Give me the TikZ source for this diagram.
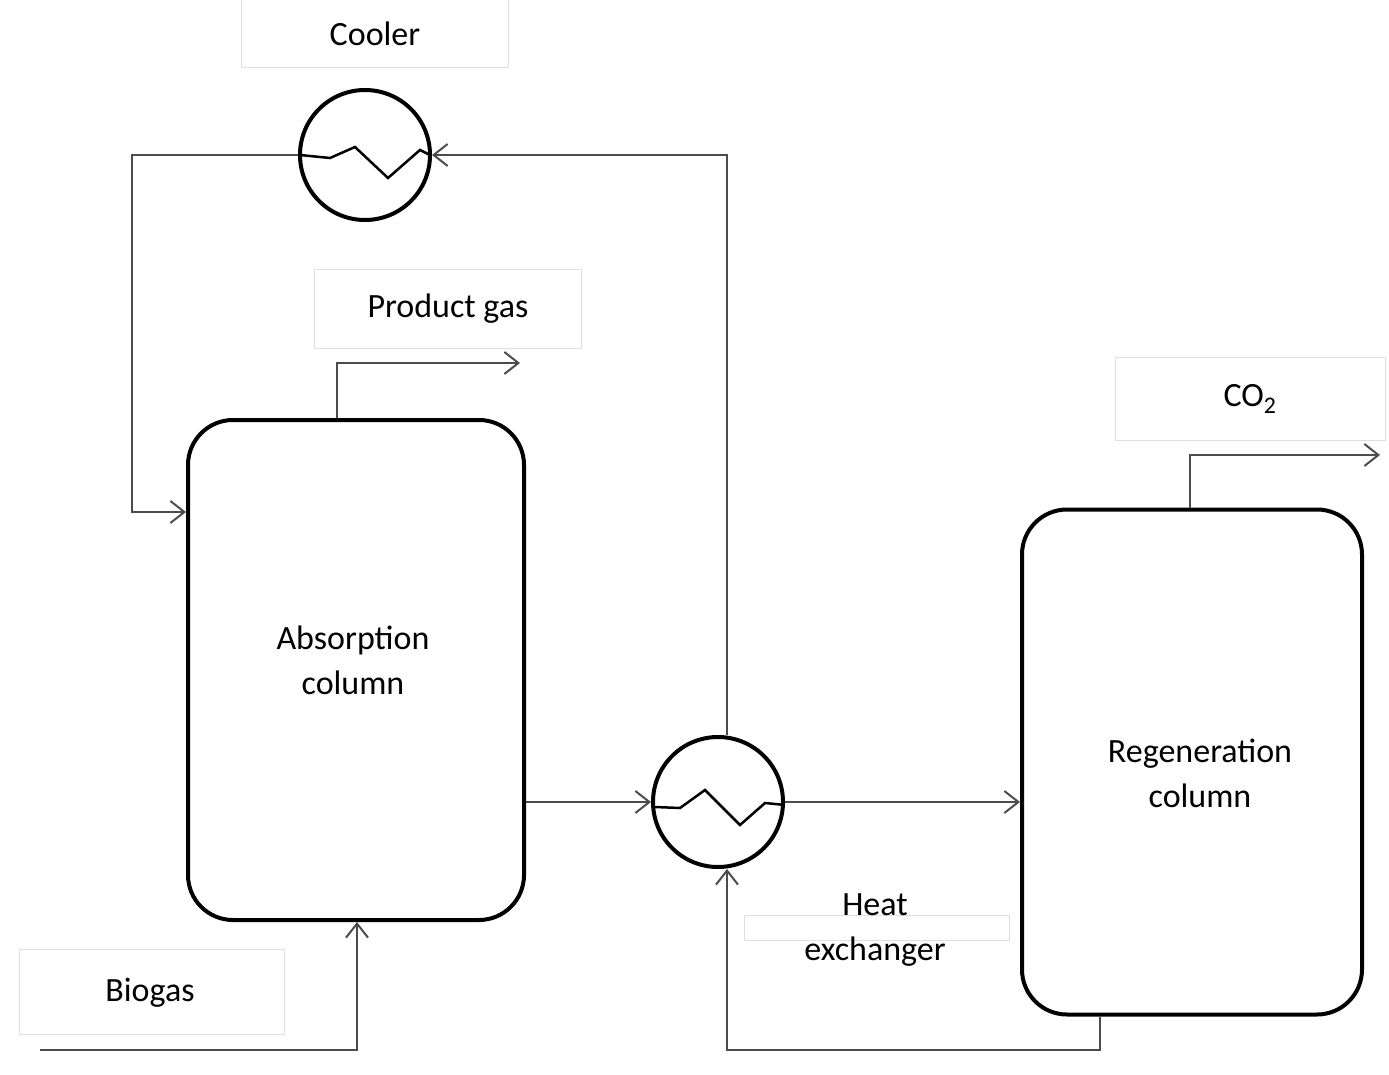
\documentclass[tikz,border=0pt]{standalone}
\usepackage{fontspec}
\setmainfont{Carlito}
\usetikzlibrary{arrows.meta}
\begin{document}
\begin{tikzpicture}[x=1pt,y=-1pt,
  pipe/.style={line width=2pt,gray!60!black},
  arr/.style={pipe,-{Straight Barb[length=14pt,width=22pt]}},
  col/.style={draw,line width=4pt,rounded corners=45pt},
  hx/.style={draw,line width=4pt,circle,minimum size=130pt,inner sep=0pt},
  txt/.style={font=\fontsize{34}{45}\selectfont,align=center},
  lbl/.style={txt,draw=gray!25,line width=1pt}]
\useasboundingbox (0,0) rectangle (1389,1075);
\node[lbl,minimum width=267pt,minimum height=68pt] (coolerL) at (375,34) {Cooler};
\node[hx] (cooler) at (365,155) {};
\draw[line width=2.5pt] (300,155) -- (330,158) -- (355,147) -- (388,178) -- (420,150) -- (430,155);
\node[lbl,minimum width=267pt,minimum height=78pt] (prodL) at (448,309) {Product gas};
\node[col,minimum width=336pt,minimum height=500pt] (abs) at (356,670) {};
\node[txt] (absT) at (353,660) {Absorption\\column};
\node[hx] (hx) at (718,802) {};
\draw[line width=2.5pt] (655,807) -- (680,808) -- (705,790) -- (740,825) -- (765,803) -- (785,805);
\node[col,minimum width=340pt,minimum height=505pt] (reg) at (1192,762) {};
\node[txt] (regT) at (1200,773) {Regeneration\\column};
\node[lbl,minimum width=270pt,minimum height=83pt] (co2L) at (1250,399) {CO\textsubscript{2}};
\node[draw=gray!25,line width=1pt,minimum width=265pt,minimum height=25pt] (hxbox) at (877,928) {};
\node[txt] (hxL) at (875,930) {Heat\\exchanger};
\node[draw=gray!25,line width=1pt,minimum width=265pt,minimum height=85pt] (bioBox) at (152,992) {};
\node[txt] (bioL) at (150,993) {Biogas};
\coordinate (c1) at (132,155); \coordinate (c2) at (132,512);
\draw[arr] (cooler.west) -- (c1) -- (c2) -- (abs.west |- c2);
\coordinate (t1) at (727,155);
\draw[arr] (hx.north -| t1) -- (t1) -- (cooler.east);
\coordinate (p1) at (337,363); \coordinate (p2) at (520,363);
\draw[arr] (abs.north -| p1) -- (p1) -- (p2);
\draw[arr] (abs.east |- hx.west) -- (hx.west);
\draw[arr] (hx.east) -- (reg.west |- hx.east);
\coordinate (q1) at (1190,455); \coordinate (q2) at (1380,455);
\draw[arr] (reg.north -| q1) -- (q1) -- (q2);
\coordinate (b1) at (1100,1050); \coordinate (b2) at (727,1050);
\draw[arr] (reg.south -| b1) -- (b1) -- (b2) -- (hx.south -| b2);
\coordinate (g1) at (40,1050); \coordinate (g2) at (357,1050);
\draw[arr] (g1) -- (g2) -- (abs.south -| g2);
\end{tikzpicture}
\end{document}
